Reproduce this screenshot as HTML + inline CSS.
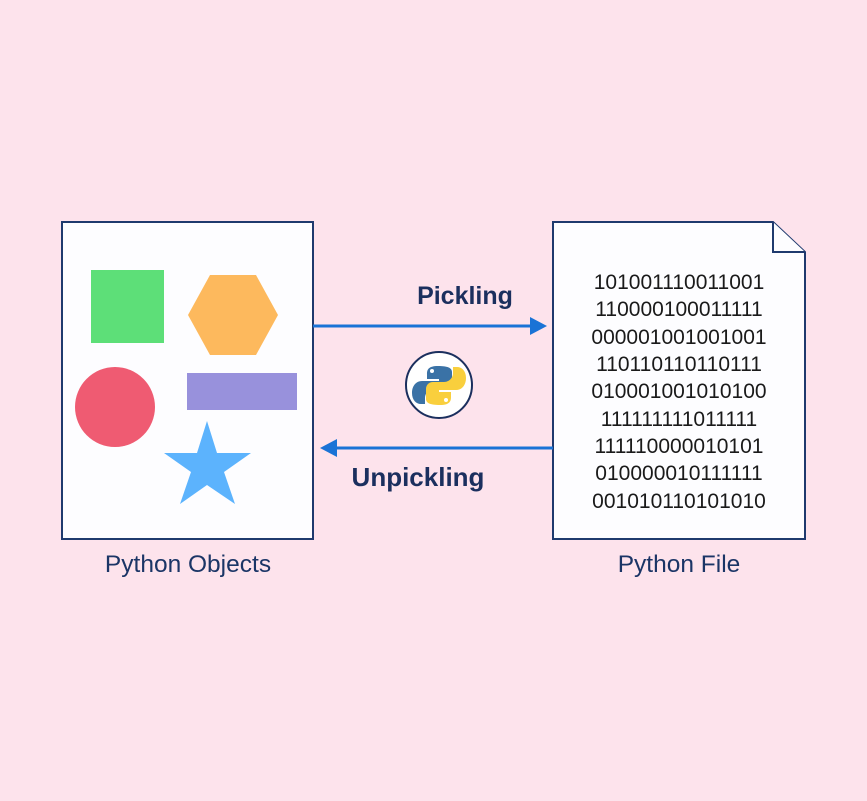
<!DOCTYPE html>
<html><head><meta charset="utf-8"><style>
html,body{margin:0;padding:0;background:#fde3ec;}
svg{display:block;}
text{font-family:"Liberation Sans",sans-serif;}
</style></head><body>
<svg width="867" height="801" viewBox="0 0 867 801" xmlns="http://www.w3.org/2000/svg">
<rect width="867" height="801" fill="#fde3ec"/>
<rect x="62" y="222" width="251" height="317" fill="#fdfdff" stroke="#1f3a6e" stroke-width="2"/>
<rect x="91" y="270" width="73" height="73" fill="#5ddf78"/>
<polygon points="188,315 210,275 256,275 278,315 256,355 210,355" fill="#fdb95d"/>
<circle cx="115" cy="407" r="40" fill="#ef5b72"/>
<rect x="187" y="373" width="110" height="37" fill="#9891dc"/>
<polygon points="207,421 217,453 251,453 224,472 235,504 207,485 180,504 191,472 164,453 197,453" fill="#5cb3fd"/>
<path d="M553,222 L773,222 L805,252 L805,539 L553,539 Z" fill="#fdfdff" stroke="#1f3a6e" stroke-width="2"/>
<path d="M773,222 L773,252 L805,252" fill="#fdfdff" stroke="#1f3a6e" stroke-width="2"/>
<g font-size="21" fill="#1a1a1a" text-anchor="middle">
<text x="679" y="289">101001110011001</text>
<text x="679" y="316">110000100011111</text>
<text x="679" y="344">000001001001001</text>
<text x="679" y="371">110110110110111</text>
<text x="679" y="398">010001001010100</text>
<text x="679" y="426">111111111011111</text>
<text x="679" y="453">111110000010101</text>
<text x="679" y="480">010000010111111</text>
<text x="679" y="508">001010110101010</text>
</g>
<line x1="313" y1="326" x2="532" y2="326" stroke="#1a73d6" stroke-width="3"/>
<polygon points="547,326 530,317 530,335" fill="#1a73d6"/>
<line x1="553" y1="448" x2="334" y2="448" stroke="#1a73d6" stroke-width="3"/>
<polygon points="320,448 337,439 337,457" fill="#1a73d6"/>
<text x="465" y="304" font-size="25" font-weight="bold" fill="#1b2f5e" text-anchor="middle">Pickling</text>
<text x="418" y="486" font-size="26" font-weight="bold" fill="#1b2f5e" text-anchor="middle">Unpickling</text>
<circle cx="439" cy="385" r="33" fill="#fff" stroke="#1b2f5e" stroke-width="2"/>
<path d="M438,366 C428,366 427,370 427,374 L427,379 L439,379 L439,381 L422,381 C416,381 412,386 412,393 C412,400 416,404 421,404 L425,404 L425,398 C425,393 429,389 434,389 L445,389 C449,389 452,386 452,382 L452,372 C452,368 448,366 438,366 Z" fill="#3a72a6"/>
<path d="M440,404 C450,404 451,400 451,396 L451,391 L439,391 L439,389 L456,389 C462,389 466,384 466,377 C466,370 462,366 457,366 L453,366 L453,372 C453,377 449,381 444,381 L433,381 C429,381 426,384 426,388 L426,398 C426,402 430,404 440,404 Z" fill="#f9cf3d" transform="translate(0,1)"/>
<circle cx="432" cy="371" r="2" fill="#fff"/>
<circle cx="446" cy="400" r="2" fill="#fff"/>
<text x="188" y="572" font-size="24.5" fill="#1b3566" text-anchor="middle">Python Objects</text>
<text x="679" y="572" font-size="24.5" fill="#1b3566" text-anchor="middle">Python File</text>
</svg>
</body></html>
